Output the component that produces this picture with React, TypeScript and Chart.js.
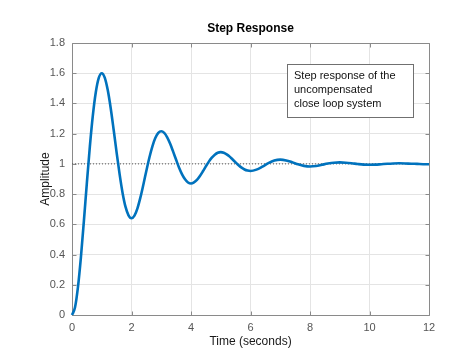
import React, { useEffect, useRef } from 'react';
import { Chart, registerables } from 'chart.js';

Chart.register(...registerables);

const timeS = [
  0, 0.1, 0.2, 0.3, 0.4, 0.5, 0.6, 0.7, 0.8, 0.9,
  1.0, 1.1, 1.2, 1.3, 1.4, 1.5, 1.6, 1.7, 1.8, 1.9,
  2.0, 2.1, 2.2, 2.3, 2.4, 2.5, 2.6, 2.7, 2.8, 2.9,
  3.0, 3.1, 3.2, 3.3, 3.4, 3.5, 3.6, 3.7, 3.8, 3.9,
  4.0, 4.1, 4.2, 4.3, 4.4, 4.5, 4.6, 4.7, 4.8, 4.9,
  5.0, 5.1, 5.2, 5.3, 5.4, 5.5, 5.6, 5.7, 5.8, 5.9,
  6.0, 6.2, 6.4, 6.6, 6.8, 7.0, 7.2, 7.4, 7.6, 7.8,
  8.0, 8.2, 8.4, 8.6, 8.8, 9.0, 9.2, 9.4, 9.6, 9.8,
  10.0, 10.2, 10.4, 10.6, 10.8, 11.0, 11.2, 11.4, 11.6, 11.8, 12.0,
];

const amplitude = [
  0, 0.049, 0.184, 0.383, 0.623, 0.874, 1.114, 1.319, 1.474, 1.569,
  1.6, 1.571, 1.49, 1.37, 1.226, 1.075, 0.932, 0.808, 0.715, 0.659,
  0.64, 0.658, 0.706, 0.778, 0.864, 0.955, 1.041, 1.115, 1.171, 1.205,
  1.216, 1.205, 1.176, 1.133, 1.081, 1.027, 0.975, 0.931, 0.898, 0.877,
  0.87, 0.877, 0.894, 0.92, 0.951, 0.984, 1.015, 1.041, 1.061, 1.074,
  1.078, 1.074, 1.063, 1.048, 1.029, 1.01, 0.991, 0.975, 0.963, 0.956,
  0.953, 0.962, 0.982, 1.005, 1.022, 1.028, 1.023, 1.011, 0.997, 0.987,
  0.983, 0.986, 0.994, 1.002, 1.008, 1.01, 1.008, 1.004, 0.999, 0.995,
  0.994, 0.995, 0.998, 1.001, 1.003, 1.004, 1.003, 1.001, 1.0, 0.998, 0.998,
];

const steadyTime = [0, 12];
const steadyValue = [1, 1];

const xTickValues = [0, 2, 4, 6, 8, 10, 12];
const xTickLabels = ['0', '2', '4', '6', '8', '10', '12'];
const yTickValues = [0, 0.2, 0.4, 0.6, 0.8, 1, 1.2, 1.4, 1.6, 1.8];
const yTickLabels = ['0', '0.2', '0.4', '0.6', '0.8', '1', '1.2', '1.4', '1.6', '1.8'];

const chartTitle = 'Step Response';
const xTitle = 'Time (seconds)';
const yTitle = 'Amplitude';
const noteLines = ['Step response of the', 'uncompensated', 'close loop system'];

const FONT = '"Liberation Sans", Arial, Helvetica, sans-serif';
const FRAME = '#8a8a8a';

const framePlugin = {
  id: 'matlabFrame',
  beforeDatasetsDraw(chart: any) {
    const { ctx, chartArea: a, scales } = chart;
    ctx.save();
    ctx.strokeStyle = FRAME;
    ctx.lineWidth = 1;
    ctx.beginPath();
    const L = Math.round(a.left) + 0.5;
    const R = Math.round(a.right) + 0.5;
    const T = Math.round(a.top) + 0.5;
    const B = Math.round(a.bottom) + 0.5;
    ctx.rect(L, T, R - L, B - T);
    const tl = 4;
    xTickValues.forEach((v) => {
      const px = Math.round(scales.x.getPixelForValue(v)) + 0.5;
      ctx.moveTo(px, B);
      ctx.lineTo(px, B - tl);
      ctx.moveTo(px, T);
      ctx.lineTo(px, T + tl);
    });
    yTickValues.forEach((v) => {
      const py = Math.round(scales.y.getPixelForValue(v)) + 0.5;
      ctx.moveTo(L, py);
      ctx.lineTo(L + tl, py);
      ctx.moveTo(R, py);
      ctx.lineTo(R - tl, py);
    });
    ctx.stroke();
    ctx.restore();
  },
  afterDraw(chart: any) {
    const { ctx, scales } = chart;
    const x0 = Math.round(scales.x.getPixelForValue(7.23)) + 0.5;
    const x1 = Math.round(scales.x.getPixelForValue(11.47)) + 0.5;
    const y0 = Math.round(scales.y.getPixelForValue(1.662)) + 0.5;
    const y1 = Math.round(scales.y.getPixelForValue(1.31)) + 0.5;
    ctx.save();
    ctx.fillStyle = '#ffffff';
    ctx.fillRect(x0, y0, x1 - x0, y1 - y0);
    ctx.strokeStyle = '#707070';
    ctx.lineWidth = 1;
    ctx.strokeRect(x0, y0, x1 - x0, y1 - y0);
    ctx.fillStyle = '#111111';
    ctx.font = `11px ${FONT}`;
    ctx.textAlign = 'left';
    ctx.textBaseline = 'middle';
    noteLines.forEach((line, i) => {
      ctx.fillText(line, x0 + 6.5, y0 + 11 + i * 14);
    });
    ctx.restore();
  },
};

export default function App() {
  const ref = useRef<HTMLCanvasElement | null>(null);

  useEffect(() => {
    if (!ref.current) return;
    Chart.defaults.font.family = FONT;
    const chart = new Chart(ref.current, {
      type: 'line',
      data: {
        datasets: [
          {
            data: timeS.map((t, i) => ({ x: t, y: amplitude[i] })),
            borderColor: '#0072BD',
            borderWidth: 2.6,
            pointRadius: 0,
            cubicInterpolationMode: 'monotone',
            clip: 4,
          } as any,
          {
            data: steadyTime.map((t, i) => ({ x: t, y: steadyValue[i] })),
            borderColor: '#555555',
            borderWidth: 1,
            borderDash: [1, 2],
            pointRadius: 0,
          } as any,
        ],
      },
      options: {
        animation: false,
        responsive: false,
        devicePixelRatio: 1,
        layout: { padding: { left: 0, right: 45, top: 0, bottom: 0 } },
        plugins: {
          legend: { display: false },
          tooltip: { enabled: false },
          title: {
            display: true,
            fullSize: false,
            text: chartTitle,
            color: '#000000',
            font: { size: 12, weight: 'bold', family: FONT },
            padding: { top: 21, bottom: 7.6 },
          },
        },
        scales: {
          x: {
            type: 'linear',
            min: 0,
            max: 12,
            afterBuildTicks: (s: any) => {
              s.ticks = xTickValues.map((v) => ({ value: v }));
            },
            afterFit: (s: any) => {
              s.height = 40;
            },
            ticks: {
              autoSkip: false,
              maxRotation: 0,
              padding: 6,
              color: '#555555',
              font: { size: 11 },
              callback: (v: any) => xTickLabels[xTickValues.indexOf(Number(v))] ?? '',
            },
            grid: { color: '#e4e4e4', drawTicks: false },
            border: { display: false },
            title: {
              display: true,
              text: xTitle,
              color: '#1a1a1a',
              font: { size: 12 },
              padding: { top: 0, bottom: 6 },
            },
          },
          y: {
            type: 'linear',
            min: 0,
            max: 1.8,
            afterBuildTicks: (s: any) => {
              s.ticks = yTickValues.map((v) => ({ value: v }));
            },
            afterFit: (s: any) => {
              s.width = 72;
            },
            ticks: {
              autoSkip: false,
              padding: 7,
              color: '#555555',
              font: { size: 11 },
              callback: (v: any) => {
                const idx = yTickValues.findIndex((t) => Math.abs(t - Number(v)) < 1e-6);
                return idx >= 0 ? yTickLabels[idx] : '';
              },
            },
            grid: { color: '#e4e4e4', drawTicks: false },
            border: { display: false },
            title: {
              display: true,
              text: yTitle,
              color: '#1a1a1a',
              font: { size: 12 },
              padding: { top: 38, bottom: 0 },
            },
          },
        },
      } as any,
      plugins: [framePlugin],
    });
    return () => chart.destroy();
  }, []);

  return (
    <div style={{ position: 'absolute', left: 0, top: 0, width: 474, height: 355, background: '#ffffff' }}>
      <canvas ref={ref} width={474} height={355} style={{ display: 'block' }} />
    </div>
  );
}
